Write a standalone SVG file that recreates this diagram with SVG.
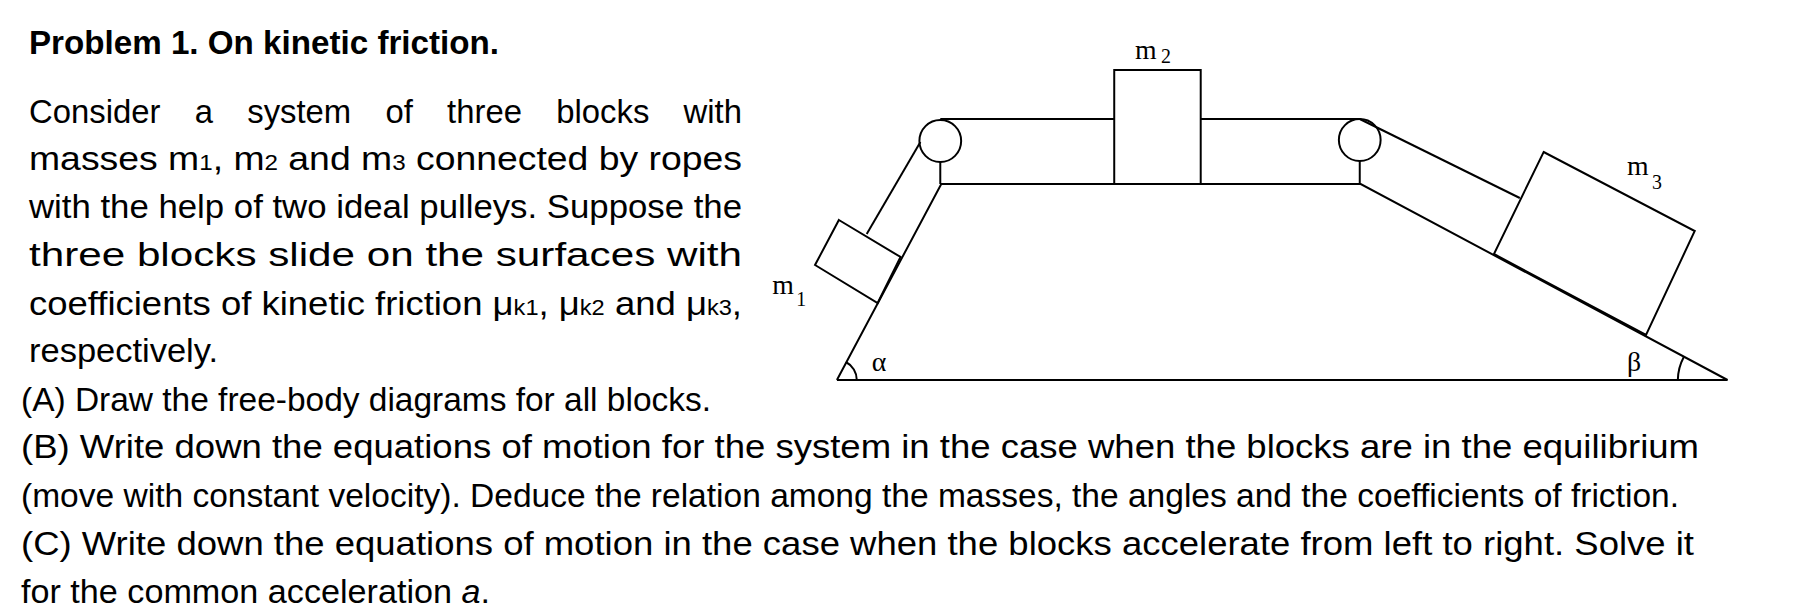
<svg xmlns="http://www.w3.org/2000/svg" width="1808" height="616" viewBox="0 0 1808 616">
<style>
.t{font-family:"Liberation Sans Narrow","Liberation Sans",Arial,sans-serif;font-size:34px;fill:#000}
.b{font-weight:bold}
.s{font-size:22px}
.m{font-family:"Liberation Serif","Times New Roman",serif;font-size:28px;fill:#000}
.ms{font-size:20px}
.ln{stroke:#000;stroke-width:2;fill:none}
</style>
<rect width="1808" height="616" fill="#fff"/>
<g id="text">
<text class="t b" x="29" y="54" textLength="470" lengthAdjust="spacingAndGlyphs">Problem 1. On kinetic friction.</text>
<text class="t" x="29" y="123" textLength="713" lengthAdjust="spacingAndGlyphs" word-spacing="26">Consider a system of three blocks with</text>
<text class="t" x="29" y="170" textLength="713" lengthAdjust="spacingAndGlyphs">masses  m<tspan class="s">1</tspan>,  m<tspan class="s">2</tspan> and  m<tspan class="s">3</tspan> connected  by  ropes</text>
<text class="t" x="29" y="218" textLength="713" lengthAdjust="spacingAndGlyphs">with the help of two ideal pulleys. Suppose the</text>
<text class="t" x="29" y="266" textLength="713" lengthAdjust="spacingAndGlyphs">three   blocks   slide   on   the   surfaces   with</text>
<text class="t" x="29" y="315" textLength="713" lengthAdjust="spacingAndGlyphs">coefficients  of  kinetic  friction  μ<tspan class="s">k1</tspan>, μ<tspan class="s">k2</tspan> and μ<tspan class="s">k3</tspan>,</text>
<text class="t" x="29" y="362" textLength="189" lengthAdjust="spacingAndGlyphs">respectively.</text>
<text class="t" x="21" y="411" textLength="690" lengthAdjust="spacingAndGlyphs">(A) Draw the free-body diagrams for all blocks.</text>
<text class="t" x="21" y="458" font-size="33" textLength="1678" lengthAdjust="spacingAndGlyphs">(B)  Write  down  the  equations  of  motion  for  the  system  in  the  case  when  the  blocks  are  in  the  equilibrium</text>
<text class="t" x="21" y="507" font-size="33" textLength="1658" lengthAdjust="spacingAndGlyphs">(move with constant velocity). Deduce the relation among the masses, the angles and the coefficients of friction.</text>
<text class="t" x="21" y="555" font-size="33" textLength="1673" lengthAdjust="spacingAndGlyphs">(C)  Write  down   the   equations of motion in the case   when   the  blocks  accelerate   from   left   to   right.   Solve   it</text>
<text class="t" x="21" y="603" textLength="469" lengthAdjust="spacingAndGlyphs">for  the  common acceleration <tspan font-style="italic">a</tspan>.</text>
</g>
<g id="figure" transform="translate(-7,-1) scale(0.994,1)">
<g id="incline">
<polyline class="ln" points="849,381 954,185 1376,185 1745,381 849,381"/>
<path class="ln" d="M858,363 A20,20 0 0 1 869,381"/>
<path class="ln" d="M1701,358 A50,50 0 0 0 1695,381"/>
<text class="m" x="884" y="372" font-size="24">α</text>
<text class="m" x="1644" y="372" font-size="24">β</text>
</g>
<g id="pulley-left">
<circle class="ln" cx="953" cy="142" r="21"/>
<line class="ln" x1="953" y1="163" x2="953" y2="185"/>
</g>
<g id="pulley-right">
<circle class="ln" cx="1375" cy="141" r="21"/>
<line class="ln" x1="1375" y1="162" x2="1375" y2="185"/>
</g>
<g id="m1">
<polygon class="ln" points="851,221 913,258 890,304 827,266"/>
<text class="m" x="784" y="295">m</text><text class="m ms" x="808" y="307">1</text>
</g>
<g id="m2">
<rect class="ln" x="1128" y="71" width="87" height="114"/>
<text class="m" x="1149" y="60">m</text><text class="m ms" x="1175" y="64">2</text>
</g>
<g id="m3">
<polygon class="ln" points="1560,153 1712,232 1663,336 1510,255"/>
<text class="m" x="1644" y="176">m</text><text class="m ms" x="1669" y="190">3</text>
</g>
<g id="connectors">
<line class="ln" x1="879" y1="235" x2="933" y2="143"/>
<line class="ln" x1="953" y1="120" x2="1128" y2="120"/>
<line class="ln" x1="1215" y1="120" x2="1375" y2="120"/>
<line class="ln" x1="1375" y1="120" x2="1536" y2="199"/>
</g>
</g>
</svg>
